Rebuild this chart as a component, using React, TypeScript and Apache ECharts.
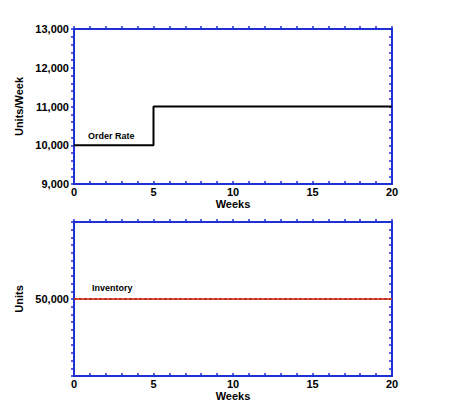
import React, { useEffect, useRef } from "react";
import * as echarts from "echarts";

// data
const weekTicks = [0, 5, 10, 15, 20];
const orderWeeks = [0, 5, 20];
const orderRate = [10000, 11000, 11000];
const inventoryWeeks = [0, 20];
const inventory = [50000, 50000];

const BLUE = "#1f30d4";
const FONT = "'Liberation Sans', Arial, sans-serif";

const fmt = (v: number) => v.toLocaleString("en-US");

const App = () => {
  const chartRef = useRef<HTMLDivElement | null>(null);

  useEffect(() => {
    if (!chartRef.current) return;
    const myChart = echarts.init(chartRef.current, undefined, { renderer: "svg" });

    const xBase = (gridIndex: number, bottom: boolean) => ({
      type: "value",
      gridIndex,
      position: bottom ? "bottom" : "top",
      min: weekTicks[0],
      max: weekTicks[weekTicks.length - 1],
      interval: 5,
      name: bottom ? "Weeks" : "",
      nameLocation: "middle",
      nameGap: 14,
      nameTextStyle: { color: "#000", fontFamily: FONT, fontWeight: "bold", fontSize: 11 },
      axisLine: { show: true, onZero: false, lineStyle: { color: BLUE, width: 2 } },
      axisTick: { show: true, inside: bottom, length: 3, lineStyle: { color: BLUE, width: 1.5 } },
      minorTick: { show: true, splitNumber: 5, length: 3, lineStyle: { color: BLUE, width: 1.5 } },
      axisLabel: {
        show: bottom,
        color: "#000",
        fontFamily: FONT,
        fontWeight: "bold",
        fontSize: 11,
        margin: 2,
      },
      splitLine: { show: false },
    });

    const yBase = (
      gridIndex: number,
      left: boolean,
      min: number,
      max: number,
      interval: number,
      minorSplit: number,
      name: string,
      showLabel: (v: number) => boolean
    ) => ({
      type: "value",
      gridIndex,
      position: left ? "left" : "right",
      min,
      max,
      interval,
      name: left ? name : "",
      nameLocation: "middle",
      nameGap: 44,
      nameTextStyle: { color: "#000", fontFamily: FONT, fontWeight: "bold", fontSize: 11 },
      axisLine: { show: true, onZero: false, lineStyle: { color: BLUE, width: 2 } },
      axisTick: { show: true, inside: !left, length: 3, lineStyle: { color: BLUE, width: 1.5 } },
      minorTick: { show: true, splitNumber: minorSplit, length: 3, lineStyle: { color: BLUE, width: 1.5 } },
      axisLabel: {
        show: left,
        color: "#000",
        fontFamily: FONT,
        fontWeight: "bold",
        fontSize: 11,
        margin: 5,
        padding: [0, 0, 2, 0],
        formatter: (v: number) => (showLabel(v) ? fmt(v) : ""),
      },
      splitLine: { show: false },
    });

    const option = {
      animation: false,
      backgroundColor: "#fff",
      grid: [
        { left: 74, top: 29, width: 318, height: 155 },
        { left: 74, top: 222, width: 318, height: 154 },
      ],
      xAxis: [xBase(0, true), xBase(0, false), xBase(1, true), xBase(1, false)],
      yAxis: [
        yBase(0, true, 9000, 13000, 1000, 5, "Units/Week", () => true),
        yBase(0, false, 9000, 13000, 1000, 5, "", () => false),
        yBase(1, true, 0, 100000, 50000, 10, "Units", (v) => v === 50000),
        yBase(1, false, 0, 100000, 50000, 10, "", () => false),
      ],
      series: [
        {
          name: "Order Rate",
          type: "line",
          xAxisIndex: 0,
          yAxisIndex: 0,
          step: "end",
          symbol: "none",
          data: orderWeeks.map((w, i) => [w, orderRate[i]]),
          lineStyle: { color: "#000", width: 2 },
          z: 1,
        },
        {
          name: "Inventory",
          type: "line",
          xAxisIndex: 2,
          yAxisIndex: 2,
          symbol: "none",
          data: inventoryWeeks.map((w, i) => [w, inventory[i]]),
          lineStyle: { color: "#f0503c", width: 2 },
          z: 1,
        },
        {
          name: "Inventory dash",
          type: "line",
          xAxisIndex: 2,
          yAxisIndex: 2,
          symbol: "none",
          data: inventoryWeeks.map((w, i) => [w, inventory[i]]),
          lineStyle: { color: "#7a1a1a", width: 1, type: [3, 2] },
          z: 2,
        },
      ],
      graphic: [
        {
          type: "text",
          left: 88,
          top: 131,
          style: { text: "Order Rate", fill: "#000", font: `bold 9px ${FONT}` },
        },
        {
          type: "text",
          left: 92,
          top: 283,
          style: { text: "Inventory", fill: "#000", font: `bold 9px ${FONT}` },
        },
      ],
    };

    myChart.setOption(option);

    return () => {
      myChart.dispose();
    };
  }, []);

  return (
    <div
      ref={chartRef}
      style={{ position: "fixed", left: 0, top: 0, width: "467px", height: "409px" }}
    ></div>
  );
};

export default App;
